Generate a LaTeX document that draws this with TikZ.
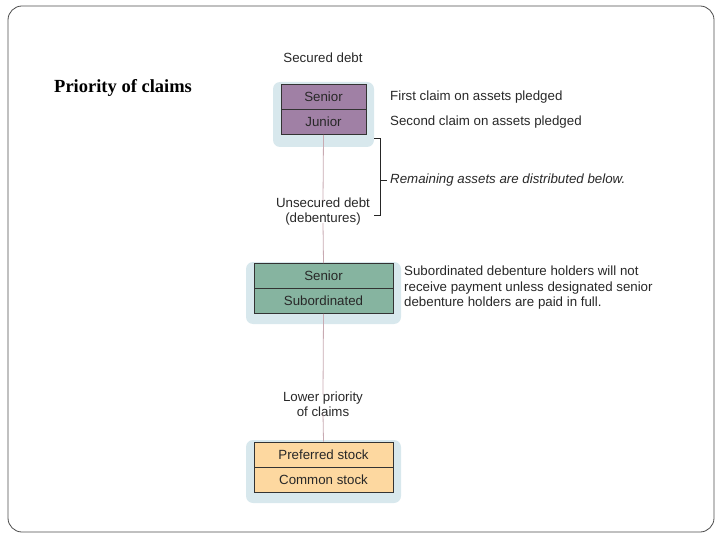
\documentclass[tikz,border=0pt]{standalone}
\usepackage{fontspec}
\setmainfont{Liberation Sans}
\newfontfamily\serifft{Liberation Serif}
\definecolor{purp}{RGB}{160,128,165}
\definecolor{grn}{RGB}{134,180,160}
\definecolor{org}{RGB}{253,216,160}
\definecolor{halo}{RGB}{178,210,220}
\definecolor{conn}{RGB}{200,170,178}
\definecolor{txt}{RGB}{40,40,40}
\begin{document}
\begin{tikzpicture}[x=1pt,y=-1pt,
  cell/.style={draw=black!80,line width=0.7pt,minimum height=25pt,inner sep=0pt,font=\fontsize{13.3}{15}\selectfont,text=txt},
  lbl/.style={font=\fontsize{13.3}{15}\selectfont,text=txt,inner sep=0pt},
  con/.style={conn,line width=0.8pt},
  glow/.style={fill=halo,rounded corners=7pt,draw=none}]
\useasboundingbox (0,0) rectangle (720,540);
\draw[black!70,line width=0.8pt,rounded corners=14pt] (8,6) rectangle (714,532);
\node[font=\serifft\bfseries\fontsize{18.5}{20}\selectfont,anchor=west,inner sep=0pt] (title) at (54,88) {Priority of claims};
% halos
\fill[glow,opacity=0.5] (273,82) rectangle (374,147);
\fill[glow,opacity=0.5] (246,262) rectangle (401,324);
\fill[glow,opacity=0.5] (246,440) rectangle (401,503);
% secured
\node[lbl] (sec) at (323,58) {Secured debt};
\node[cell,fill=purp,minimum width=85pt] (s1) at (323.5,97) {Senior};
\node[cell,fill=purp,minimum width=85pt] (s2) at (323.5,122) {Junior};
\node[lbl,anchor=west] (t1) at (390,97) {First claim on assets pledged};
\node[lbl,anchor=west] (t2) at (390,122) {Second claim on assets pledged};
\coordinate (bt) at (374,138);
\coordinate (bb) at (374,215);
\draw[black!85,line width=0.8pt] (bt) -- (380,138) -- (380,215) -- (bb);
\coordinate (bm) at (380,180);
\node[lbl,anchor=west,font=\itshape\fontsize{13.3}{15}\selectfont] (rem) at (390,180) {Remaining assets are distributed below.};
\draw[black!85,line width=0.8pt] (bm) -- ([xshift=-3pt]rem.west);
\node[lbl,align=center] (uns) at (323,212) {Unsecured debt\\(debentures)};
% green
\node[cell,fill=grn,minimum width=139pt] (g1) at (323.5,276) {Senior};
\node[cell,fill=grn,minimum width=139pt] (g2) at (323.5,301) {Subordinated};
\node[lbl,anchor=north west,align=left,font=\fontsize{13.3}{15.5}\selectfont] (sub) at (404,266) {Subordinated debenture holders will not\\receive payment unless designated senior\\debenture holders are paid in full.};
\node[lbl,align=center] (low) at (323,404) {Lower priority\\of claims};
% orange
\node[cell,fill=org,minimum width=139pt] (o1) at (323.5,454.5) {Preferred stock};
\node[cell,fill=org,minimum width=139pt] (o2) at (323.5,479.5) {Common stock};
% connectors
\draw[con] (s2.south) -- ([yshift=-3pt]uns.north);
\draw[con] ([yshift=3pt]uns.south) -- (g1.north);
\draw[con] (g2.south) -- ([yshift=-3pt]low.north);
\draw[con] ([yshift=3pt]low.south) -- (o1.north);
\end{tikzpicture}
\end{document}
